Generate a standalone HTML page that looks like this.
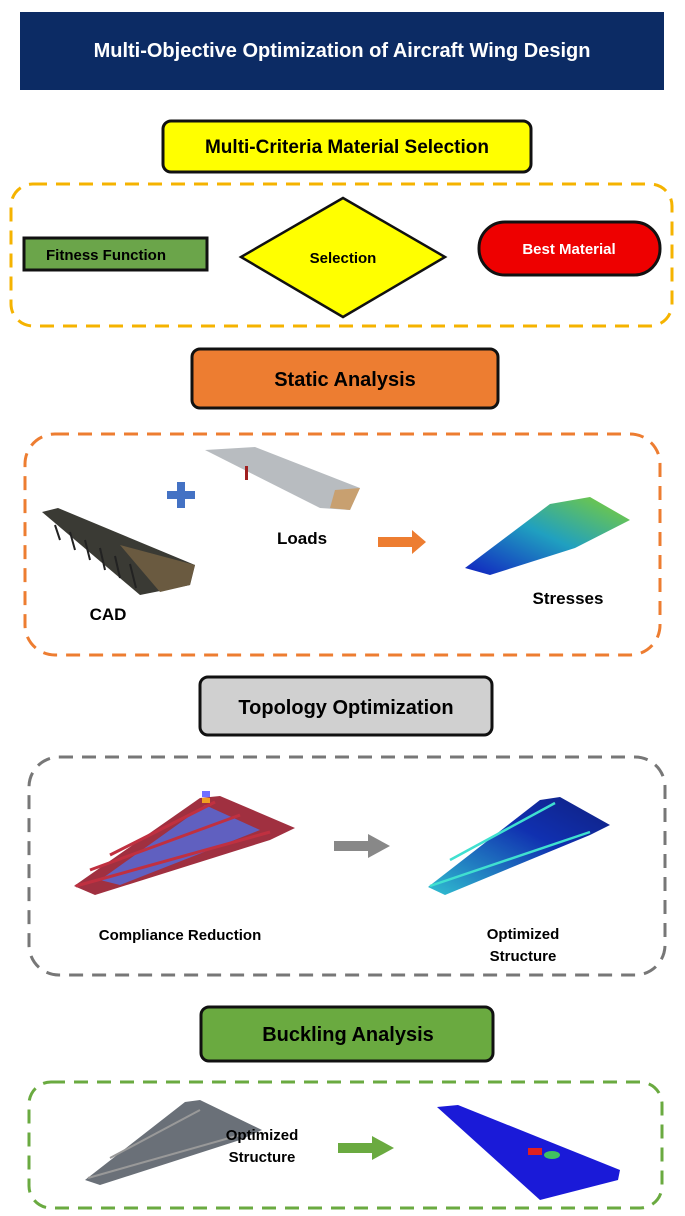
<!DOCTYPE html>
<html><head><meta charset="utf-8"><style>
body{margin:0;background:#fff;}
svg{display:block;}
text{font-family:"Liberation Sans",Arial,sans-serif;font-weight:bold;}
</style></head><body>
<svg width="685" height="1216" viewBox="0 0 685 1216" xmlns="http://www.w3.org/2000/svg">
<defs>
<linearGradient id="st" x1="0" y1="1" x2="1" y2="0"><stop offset="0" stop-color="#1020c0"/><stop offset=".5" stop-color="#20a0c0"/><stop offset="1" stop-color="#80d030"/></linearGradient>
<linearGradient id="op" x1="0" y1="1" x2="1" y2="0"><stop offset="0" stop-color="#30c0d0"/><stop offset=".6" stop-color="#1030b0"/><stop offset="1" stop-color="#102080"/></linearGradient>
</defs>
<rect x="20" y="12" width="644" height="78" fill="#0c2b64"/>
<text x="342" y="57" fill="#fff" font-size="20" text-anchor="middle">Multi-Objective Optimization of Aircraft Wing Design</text>

<rect x="163" y="121" width="368" height="51" rx="8" fill="#ffff00" stroke="#111" stroke-width="3"/>
<text x="347" y="153" font-size="19" text-anchor="middle">Multi-Criteria Material Selection</text>
<rect x="11" y="184" width="661" height="142" rx="22" fill="none" stroke="#f5b300" stroke-width="3" stroke-dasharray="14,9"/>
<rect x="24" y="238" width="183" height="32" fill="#6ba54a" stroke="#111" stroke-width="3"/>
<text x="106" y="260" font-size="15" text-anchor="middle">Fitness Function</text>
<polygon points="343,198 445,257 343,317 241,257" fill="#ffff00" stroke="#111" stroke-width="2.5"/>
<text x="343" y="263" font-size="15" text-anchor="middle">Selection</text>
<rect x="479" y="222" width="181" height="53" rx="26" fill="#ee0000" stroke="#111" stroke-width="3"/>
<text x="569" y="254" font-size="15" fill="#fff" text-anchor="middle">Best Material</text>

<rect x="192" y="349" width="306" height="59" rx="8" fill="#ed7d31" stroke="#111" stroke-width="3"/>
<text x="345" y="386" font-size="20" text-anchor="middle">Static Analysis</text>
<rect x="25" y="434" width="635" height="221" rx="30" fill="none" stroke="#ed7d31" stroke-width="3" stroke-dasharray="14,9"/>
<!-- loads wing -->
<polygon points="205,450 255,447 360,488 350,510 320,508" fill="#b8bcc0"/>
<polygon points="335,490 360,488 350,510 330,508" fill="#c8a070"/>
<rect x="245" y="466" width="3" height="14" fill="#a02020"/>
<!-- plus -->
<rect x="167" y="491" width="28" height="8" fill="#4472c4"/><rect x="177" y="482" width="8" height="26" fill="#4472c4"/>
<text x="302" y="544" font-size="17" text-anchor="middle">Loads</text>
<!-- CAD wing -->
<polygon points="42,512 58,508 195,565 190,585 140,595" fill="#3a3a34"/>
<polygon points="120,545 195,565 190,585 160,592" fill="#6a5a40"/>
<g stroke="#222" stroke-width="2">
<line x1="55" y1="525" x2="60" y2="540"/><line x1="70" y1="532" x2="75" y2="550"/><line x1="85" y1="540" x2="90" y2="560"/><line x1="100" y1="548" x2="105" y2="570"/><line x1="115" y1="556" x2="120" y2="578"/><line x1="130" y1="564" x2="136" y2="588"/></g>
<text x="108" y="620" font-size="17" text-anchor="middle">CAD</text>
<polygon points="378,537 412,537 412,530 426,542 412,554 412,547 378,547" fill="#ed7d31"/>
<polygon points="465,568 550,504 590,497 630,520 575,548 490,575" fill="url(#st)"/>
<text x="568" y="604" font-size="17" text-anchor="middle">Stresses</text>

<rect x="200" y="677" width="292" height="58" rx="8" fill="#d0d0d0" stroke="#111" stroke-width="3"/>
<text x="346" y="714" font-size="20" text-anchor="middle">Topology Optimization</text>
<rect x="29" y="757" width="636" height="218" rx="30" fill="none" stroke="#777" stroke-width="3" stroke-dasharray="14,9"/>
<polygon points="74,886 200,798 220,796 295,828 270,840 95,895" fill="#a03040"/>
<polygon points="100,880 205,805 260,830 120,885" fill="#6060c0"/>
<g stroke="#c03040" stroke-width="3"><line x1="76" y1="886" x2="270" y2="832"/><line x1="90" y1="870" x2="240" y2="815"/><line x1="110" y1="855" x2="215" y2="802"/></g>
<rect x="202" y="791" width="8" height="6" fill="#7070ff"/><rect x="202" y="798" width="8" height="5" fill="#f0a020"/>
<polygon points="334,841 368,841 368,834 390,846 368,858 368,851 334,851" fill="#888"/>
<polygon points="428,887 540,800 560,797 610,825 590,835 445,895" fill="url(#op)"/>
<g stroke="#40e0d0" stroke-width="2.5" fill="none"><line x1="430" y1="886" x2="590" y2="832"/><line x1="450" y1="860" x2="555" y2="803"/></g>
<text x="180" y="940" font-size="15" text-anchor="middle">Compliance Reduction</text>
<text x="523" y="939" font-size="15" text-anchor="middle">Optimized</text>
<text x="523" y="961" font-size="15" text-anchor="middle">Structure</text>

<rect x="201" y="1007" width="292" height="54" rx="8" fill="#6aaa40" stroke="#111" stroke-width="3"/>
<text x="348" y="1041" font-size="20" text-anchor="middle">Buckling Analysis</text>
<rect x="29" y="1082" width="633" height="126" rx="22" fill="none" stroke="#6aaa40" stroke-width="3" stroke-dasharray="14,9"/>
<polygon points="85,1180 185,1102 200,1100 262,1130 240,1140 100,1185" fill="#6a7078"/>
<g stroke="#999" stroke-width="2"><line x1="88" y1="1178" x2="240" y2="1135"/><line x1="110" y1="1158" x2="200" y2="1110"/></g>
<text x="262" y="1140" font-size="15" text-anchor="middle">Optimized</text>
<text x="262" y="1162" font-size="15" text-anchor="middle">Structure</text>
<polygon points="338,1143 372,1143 372,1136 394,1148 372,1160 372,1153 338,1153" fill="#6aaa40"/>
<polygon points="437,1107 458,1105 620,1170 618,1180 540,1200" fill="#1a1ad8"/>
<rect x="528" y="1148" width="14" height="7" fill="#e02020"/>
<ellipse cx="552" cy="1155" rx="8" ry="4" fill="#40c060"/>
</svg>
</body></html>
